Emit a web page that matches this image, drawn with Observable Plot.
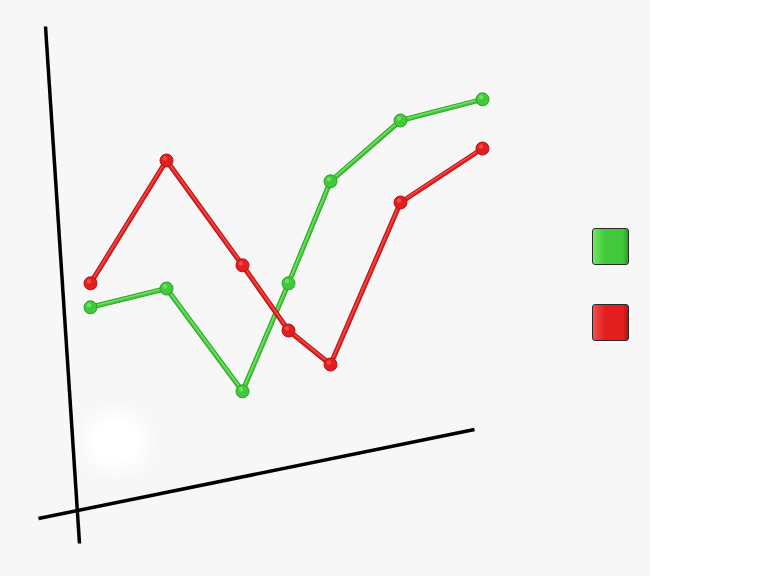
<!DOCTYPE html>
<html>
<head>
<meta charset="utf-8">
<script src="https://cdn.jsdelivr.net/npm/d3@7"></script>
<script src="https://cdn.jsdelivr.net/npm/@observablehq/plot@0.6"></script>
<style>
  html, body { margin: 0; padding: 0; background: #ffffff; }
  #wrap { position: relative; width: 768px; height: 576px; overflow: hidden;
          background: linear-gradient(to right, #f7f7f7 0px, #f7f7f7 650px, #ffffff 650px); }
  #wrap svg { position: absolute; left: 0; top: 0; background: transparent; }
  .glow { position: absolute; border-radius: 50%;
          background: radial-gradient(closest-side, #ffffff 0%, #ffffff 45%, rgba(255,255,255,0) 100%); }
  .sw { position: absolute; width: 37px; height: 37px; border: 1px solid #2a2a2a; border-radius: 3px; box-sizing: border-box; }
</style>
</head>
<body>
<div id="wrap"></div>
<script>
// x positions of the seven points (shared by both series)
const xValues = [1.0, 2.9, 4.8, 5.95, 7.0, 8.75, 10.8];
// series values
const greenValues = [48.3, 53.0, 27.3, 54.3, 79.8, 95.0, 100.3];
const redValues   = [54.3, 85.0, 58.8, 42.5, 34.0, 74.5, 88.0];
const seriesNames = ["Green", "Red"];
const seriesColors = ["#42c83a", "#e21e1e"];
const seriesDark = ["#2e9e26", "#b31414"];
const seriesLight = ["#6ee860", "#f25050"];
// perspective axis lines (in data units)
const axisX1 = [-0.125, -0.3];
const axisY1 = [118.5, -4.5];
const axisX2 = [0.725, 10.6];
const axisY2 = [-10.75, 17.75];

const rows = [];
xValues.forEach((x, i) => {
  rows.push({series: seriesNames[0], x, y: greenValues[i]});
  rows.push({series: seriesNames[1], x, y: redValues[i]});
});
const axes = axisX1.map((x1, i) => ({x1, y1: axisY1[i], x2: axisX2[i], y2: axisY2[i]}));
const byS = s => rows.filter(d => d.series === s);

const marks = [
  Plot.link(axes, {x1: "x1", y1: "y1", x2: "x2", y2: "y2", stroke: "#000", strokeWidth: 3.5, strokeLinecap: "butt"})
];
seriesNames.forEach((s, k) => {
  const data = byS(s);
  marks.push(Plot.line(data, {x: "x", y: "y", stroke: seriesDark[k], strokeWidth: 5, strokeLinejoin: "round"}));
  marks.push(Plot.line(data, {x: "x", y: "y", stroke: seriesColors[k], strokeWidth: 3.4, strokeLinejoin: "round"}));
  marks.push(Plot.line(data, {x: "x", y: "y", stroke: seriesLight[k], strokeWidth: 1.2, dy: -0.7, strokeLinejoin: "round"}));
  marks.push(Plot.dot(data, {x: "x", y: "y", r: 6.5, fill: seriesColors[k], stroke: seriesDark[k], strokeWidth: 1}));
  marks.push(Plot.dot(data, {x: "x", y: "y", r: 2.2, fill: seriesLight[k], dx: -1.5, dy: -2, fillOpacity: 0.9}));
});

const chart = Plot.plot({
  width: 768,
  height: 576,
  margin: 0,
  x: {domain: [0, 10], range: [50, 450], axis: null},
  y: {domain: [0, 100], range: [500, 100], axis: null},
  marks
});

const wrap = document.getElementById("wrap");
const glow = document.createElement("div");
glow.className = "glow";
Object.assign(glow.style, {left: "72px", top: "400px", width: "88px", height: "82px"});
wrap.appendChild(glow);
wrap.appendChild(chart);

const swatchTops = [228, 304];
seriesNames.forEach((s, k) => {
  const sw = document.createElement("div");
  sw.className = "sw";
  sw.title = s;
  Object.assign(sw.style, {
    left: "592px", top: swatchTops[k] + "px",
    background: `linear-gradient(to right, ${seriesLight[k]} 0%, ${seriesColors[k]} 35%, ${seriesColors[k]} 85%, ${seriesDark[k]} 100%)`
  });
  wrap.appendChild(sw);
});
</script>
</body>
</html>
